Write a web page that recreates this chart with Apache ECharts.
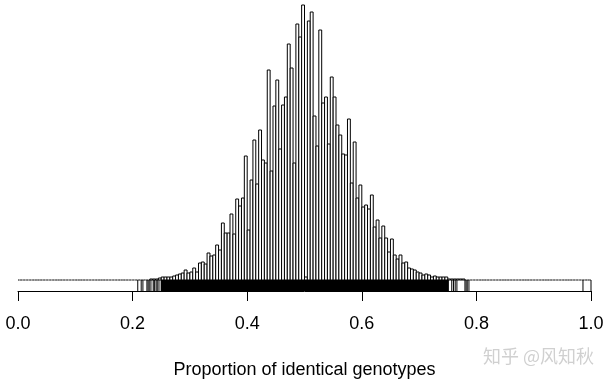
<!DOCTYPE html>
<html>
<head>
<meta charset="utf-8">
<script src="https://cdn.jsdelivr.net/npm/echarts@6/dist/echarts.min.js"></script>
<style>
  html, body { margin: 0; padding: 0; background: #fff; }
  #chart { width: 611px; height: 386px; }
</style>
</head>
<body>
<div id="chart"></div>
<script>
// Histogram: 200 bins of width 0.005 on [0, 1]
const binWidth = 0.005;
const counts = [
  0,0,0,0,0,0,0,0,0,0,
  0,0,0,0,0,0,0,0,0,0,
  0,0,0,0,0,0,0,0,0,0,
  0,0,0,0,0,0,0,0,0,0,
  0,0,0,0,0,0,1,1,1,2,
  3,3,3,3,4,5,6,7,10,7,
  8,12,8,17,18,16,27,24,25,35,
  30,57,47,47,66,46,81,74,82,124,
  50,100,140,96,150,120,117,210,109,174,
  200,131,175,183,236,212,117,256,243,275,
  3,259,268,164,134,250,177,183,136,203,
  183,155,145,126,125,161,97,138,82,95,
  73,75,71,85,53,60,42,54,42,28,
  41,25,21,25,17,18,12,11,10,8,
  7,5,6,5,3,4,3,3,3,3,
  1,1,1,1,1,1,0,0,0,0,
  0,0,0,0,0,0,0,0,0,0,
  0,0,0,0,0,0,0,0,0,0,
  0,0,0,0,0,0,0,0,0,0,
  0,0,0,0,0,0,0,0,0,0
];
// Rug: isolated observations, and the range where the rug is solid
const rugTicks = [0.209, 0.215, 0.218, 0.225, 0.227, 0.229, 0.232, 0.236, 0.238, 0.241, 0.243, 0.246,
                  0.757, 0.760, 0.763, 0.766, 0.780, 0.782, 0.784, 0.787, 0.986, 1.0];
const rugBands = [[0.249, 0.752]];
const xTicks = [0, 0.2, 0.4, 0.6, 0.8, 1.0];
const xTitle = 'Proportion of identical genotypes';
const watermark = '知乎 @风知秋';

const histData = counts.map((c, i) => [i * binWidth, (i + 1) * binWidth, c]);

const chart = echarts.init(document.getElementById('chart'), null, { renderer: 'canvas' });
const font = '"Liberation Sans", Arial, Helvetica, sans-serif';

chart.setOption({
  animation: false,
  backgroundColor: '#fff',
  grid: [
    { left: 18, width: 573, top: 5, height: 275 },
    { left: 18, width: 573, top: 280, height: 11 }
  ],
  xAxis: [
    { gridIndex: 0, type: 'value', min: 0, max: 1, show: false },
    {
      gridIndex: 1, type: 'value', min: 0, max: 1, interval: 0.2,
      axisLine: { show: true, lineStyle: { color: '#000', width: 1 } },
      axisTick: { show: true, length: 10, lineStyle: { color: '#000', width: 1 } },
      axisLabel: { show: true, fontSize: 18, color: '#000', fontFamily: font, margin: 24,
                   formatter: v => v.toFixed(1) },
      splitLine: { show: false },
      name: xTitle, nameLocation: 'middle', nameGap: 70,
      nameTextStyle: { fontSize: 18, color: '#000', fontFamily: font }
    }
  ],
  yAxis: [
    { gridIndex: 0, type: 'value', min: 0, max: 275, show: false },
    { gridIndex: 1, type: 'value', min: 0, max: 1, show: false }
  ],
  series: [
    {
      type: 'custom', xAxisIndex: 0, yAxisIndex: 0,
      data: histData,
      renderItem: function (params, api) {
        const c = api.value(2);
        const p0 = api.coord([api.value(0), c]);
        const p1 = api.coord([api.value(1), 0]);
        const style = c > 0
          ? { fill: '#fff', stroke: '#000', lineWidth: 1 }
          : { fill: '#fff', stroke: '#222', lineWidth: 1, lineDash: [1, 1] };
        return {
          type: 'rect',
          shape: { x: p0[0], y: p0[1], width: p1[0] - p0[0], height: p1[1] - p0[1] },
          style: style
        };
      }
    },
    {
      type: 'custom', xAxisIndex: 1, yAxisIndex: 1,
      data: rugTicks.map(v => [v]),
      renderItem: function (params, api) {
        const a = api.coord([api.value(0), 0]);
        const b = api.coord([api.value(0), 1]);
        return {
          type: 'line',
          shape: { x1: a[0], y1: a[1], x2: b[0], y2: b[1] },
          style: { stroke: '#000', lineWidth: 1 }
        };
      }
    },
    {
      type: 'custom', xAxisIndex: 1, yAxisIndex: 1,
      data: rugBands,
      renderItem: function (params, api) {
        const a = api.coord([api.value(0), 1]);
        const b = api.coord([api.value(1), 0]);
        return {
          type: 'rect',
          shape: { x: a[0], y: a[1], width: b[0] - a[0], height: b[1] - a[1] },
          style: { fill: '#000' }
        };
      }
    }
  ],
  graphic: [
    {
      type: 'text', left: 483, top: 347,
      style: { text: watermark, fontSize: 18, fill: '#d0d0d0',
               fontFamily: '"Noto Sans CJK SC", sans-serif' }
    }
  ]
});
</script>
</body>
</html>
